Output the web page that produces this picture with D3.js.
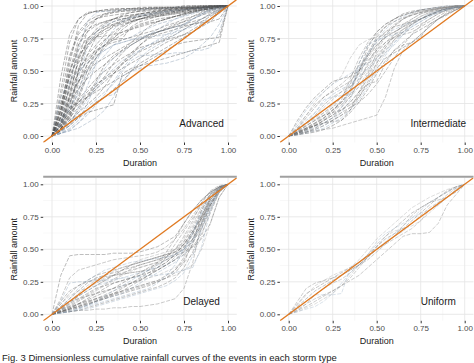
<!DOCTYPE html>
<html><head><meta charset="utf-8">
<script src="https://cdn.jsdelivr.net/npm/d3@7"></script>
<style>body{margin:0;background:#fff}svg{display:block;font-family:"Liberation Sans",Arial,sans-serif}</style>
</head><body>
<svg id="c" width="474" height="363"></svg>
<script>
// ---- data ----
const durationGrid = [0,.05,.1,.15,.2,.25,.3,.35,.4,.45,.5,.55,.6,.65,.7,.75,.8,.85,.9,.95,1];
const tickValues = [0,0.25,0.5,0.75,1];
const tickLabels = ["0.00","0.25","0.50","0.75","1.00"];
const panelNames = ["Advanced","Intermediate","Delayed","Uniform"];

const advanced = [
[0,.35,.72,.9,.95,.96,.97,.97,.98,.98,.98,.99,.99,.99,.99,1,1,1,1,1,1],
[0,.2,.55,.85,.94,.96,.96,.97,.97,.98,.98,.98,.99,.99,.99,.99,1,1,1,1,1],
[0,.12,.4,.66,.88,.95,.96,.96,.97,.97,.97,.98,.98,.98,.99,.99,.99,.99,1,1,1],
[0,.25,.45,.6,.72,.8,.86,.9,.93,.95,.96,.97,.97,.98,.98,.99,.99,.99,1,1,1],
[0,.08,.3,.5,.62,.7,.78,.85,.88,.9,.92,.93,.95,.96,.97,.98,.98,.99,.99,1,1],
[0,.05,.15,.35,.55,.68,.74,.74,.75,.84,.88,.9,.92,.94,.95,.96,.97,.98,.99,1,1],
[0,.1,.22,.32,.45,.55,.62,.7,.74,.76,.8,.83,.86,.88,.9,.93,.95,.97,.98,.99,1],
[0,.04,.1,.2,.3,.42,.55,.62,.66,.7,.74,.78,.8,.83,.86,.88,.92,.95,.97,.99,1],
[0,.15,.3,.42,.5,.56,.6,.64,.68,.72,.75,.78,.8,.82,.85,.88,.9,.93,.95,.97,1],
[0,.06,.14,.22,.3,.38,.45,.5,.56,.6,.65,.68,.72,.75,.78,.82,.86,.9,.94,.97,1],
[0,.03,.08,.14,.22,.28,.34,.4,.5,.58,.62,.62,.63,.63,.64,.64,.66,.66,.68,.8,1],
[0,.18,.6,.78,.86,.9,.92,.93,.94,.95,.96,.96,.97,.97,.98,.98,.99,.99,1,1,1],
[0,.1,.32,.58,.74,.82,.87,.9,.92,.93,.94,.95,.96,.97,.97,.98,.98,.99,.99,1,1],
[0,.05,.18,.4,.62,.76,.84,.88,.9,.92,.93,.94,.95,.96,.96,.97,.98,.98,.99,1,1],
[0,.02,.06,.12,.25,.4,.52,.6,.65,.7,.74,.78,.82,.86,.9,.92,.94,.96,.98,.99,1],
[0,.2,.35,.48,.58,.65,.7,.72,.74,.76,.78,.8,.82,.85,.87,.9,.92,.94,.96,.98,1],
[0,.08,.2,.28,.36,.44,.5,.55,.6,.64,.68,.7,.72,.74,.76,.78,.8,.84,.88,.95,1],
[0,.3,.62,.8,.88,.92,.94,.96,.97,.97,.98,.98,.98,.99,.99,.99,.99,1,1,1,1],
[0,.12,.25,.45,.68,.8,.85,.88,.9,.91,.92,.93,.94,.95,.96,.97,.98,.99,.99,1,1],
[0,.06,.12,.18,.24,.3,.38,.48,.56,.64,.7,.75,.78,.8,.82,.84,.86,.88,.92,.96,1],
[0,.04,.22,.5,.7,.78,.82,.85,.87,.89,.9,.91,.92,.93,.94,.95,.96,.97,.98,.99,1],
[0,.15,.38,.52,.6,.66,.7,.74,.78,.82,.85,.87,.88,.9,.92,.94,.96,.97,.98,.99,1],
[0,.02,.05,.1,.16,.24,.32,.42,.52,.6,.66,.7,.73,.76,.8,.85,.9,.94,.97,.99,1],
[0,.25,.5,.66,.75,.8,.84,.86,.88,.9,.92,.94,.95,.96,.97,.97,.98,.98,.99,1,1],
[0,.1,.28,.42,.52,.6,.68,.75,.82,.87,.9,.92,.93,.94,.95,.96,.97,.98,.99,1,1],
[0,.05,.1,.16,.2,.26,.3,.36,.42,.5,.56,.6,.64,.68,.72,.76,.8,.85,.9,.95,1],
[0,.3,.42,.5,.56,.62,.66,.7,.72,.74,.75,.76,.77,.78,.8,.82,.84,.88,.9,.94,1],
[0,.08,.38,.7,.84,.9,.93,.95,.96,.97,.97,.98,.98,.98,.99,.99,.99,1,1,1,1],
[0,.04,.12,.28,.46,.6,.7,.78,.84,.88,.9,.92,.93,.94,.95,.96,.97,.98,.99,.99,1],
[0,.12,.2,.26,.32,.38,.46,.56,.64,.7,.74,.77,.8,.82,.84,.86,.88,.9,.93,.96,1],
[0,.02,.08,.22,.38,.56,.72,.82,.88,.91,.93,.94,.95,.96,.97,.97,.98,.98,.99,1,1],
[0,.06,.16,.26,.34,.4,.44,.48,.52,.56,.6,.64,.68,.72,.75,.78,.82,.86,.9,.96,1],
[0,.22,.4,.56,.68,.76,.82,.86,.89,.92,.94,.95,.96,.97,.97,.98,.98,.99,.99,1,1],
[0,.14,.5,.74,.82,.86,.88,.9,.92,.93,.94,.95,.96,.97,.98,.98,.99,.99,1,1,1],
[0,.03,.1,.18,.28,.36,.44,.52,.58,.62,.66,.7,.74,.78,.82,.86,.9,.93,.96,.98,1],
[0,.1,.18,.24,.3,.36,.42,.48,.55,.62,.7,.76,.8,.82,.84,.85,.86,.87,.88,.9,1],
[0,.45,.78,.9,.94,.96,.97,.98,.98,.98,.99,.99,.99,.99,.99,1,1,1,1,1,1],
[0,.05,.25,.42,.55,.64,.7,.76,.8,.83,.86,.88,.9,.91,.92,.93,.95,.97,.98,.99,1],
[0,.02,.04,.1,.18,.26,.3,.32,.4,.5,.6,.66,.7,.74,.78,.82,.86,.9,.94,.97,1],
[0,.08,.26,.36,.44,.5,.55,.6,.66,.72,.78,.84,.88,.9,.92,.94,.95,.96,.97,.98,1],
[0,.16,.46,.62,.7,.76,.8,.84,.86,.88,.9,.92,.94,.95,.96,.97,.98,.99,.99,1,1],
[0,.06,.3,.6,.8,.9,.94,.95,.96,.96,.97,.97,.98,.98,.98,.99,.99,.99,1,1,1],
[0,.1,.2,.36,.5,.6,.66,.7,.72,.74,.76,.78,.8,.82,.84,.86,.9,.94,.97,.99,1],
[0,.04,.14,.3,.5,.64,.74,.8,.85,.88,.9,.91,.92,.93,.94,.95,.96,.97,.98,.99,1],
[0,.2,.48,.7,.8,.85,.88,.9,.9,.91,.92,.93,.94,.95,.96,.97,.98,.98,.99,1,1],
[0,.04,.08,.14,.18,.2,.22,.24,.48,.52,.54,.56,.58,.6,.62,.64,.66,.68,.7,.72,1],
[0,.02,.04,.06,.1,.14,.2,.3,.46,.5,.52,.54,.55,.56,.58,.6,.64,.7,.76,.86,1],
[0,.14,.22,.26,.3,.34,.38,.42,.46,.5,.54,.58,.62,.66,.7,.72,.73,.74,.75,.76,1],
[0,.08,.16,.5,.74,.76,.77,.78,.8,.82,.84,.86,.88,.9,.92,.94,.96,.97,.98,.99,1]
];

const intermediate = [
[0,.02,.05,.08,.12,.16,.22,.3,.42,.56,.68,.78,.85,.9,.93,.95,.97,.98,.99,1,1],
[0,.04,.08,.12,.18,.24,.3,.38,.48,.6,.7,.76,.8,.84,.88,.92,.95,.97,.98,.99,1],
[0,.01,.03,.05,.08,.12,.18,.28,.45,.62,.74,.82,.88,.92,.95,.97,.98,.99,1,1,1],
[0,.06,.14,.22,.3,.34,.38,.42,.5,.58,.66,.72,.78,.82,.86,.9,.93,.96,.98,.99,1],
[0,.02,.04,.06,.1,.14,.2,.26,.34,.44,.54,.64,.74,.82,.88,.92,.95,.97,.98,.99,1],
[0,.03,.06,.1,.14,.2,.26,.34,.5,.68,.8,.86,.9,.93,.95,.97,.98,.99,.99,1,1],
[0,.08,.16,.24,.3,.35,.4,.46,.54,.62,.7,.76,.8,.84,.87,.9,.93,.95,.97,.99,1],
[0,.01,.02,.04,.06,.1,.14,.2,.28,.38,.5,.62,.72,.8,.86,.9,.94,.96,.98,.99,1],
[0,.02,.06,.1,.16,.22,.3,.4,.56,.7,.78,.84,.88,.91,.93,.95,.96,.97,.98,.99,1],
[0,.05,.1,.14,.18,.22,.26,.32,.38,.46,.56,.66,.74,.8,.86,.9,.93,.96,.98,.99,1],
[0,.03,.08,.12,.16,.18,.2,.24,.3,.4,.52,.6,.64,.68,.72,.78,.84,.9,.94,.97,1],
[0,.02,.04,.08,.12,.18,.28,.44,.6,.72,.8,.86,.9,.93,.95,.96,.97,.98,.99,1,1],
[0,.1,.2,.28,.34,.4,.44,.48,.52,.56,.6,.66,.72,.78,.84,.88,.92,.95,.97,.99,1],
[0,.01,.03,.06,.1,.14,.18,.22,.26,.32,.4,.5,.6,.7,.78,.85,.9,.94,.97,.99,1],
[0,.04,.07,.1,.13,.18,.24,.32,.42,.52,.62,.7,.76,.82,.86,.9,.93,.95,.97,.99,1],
[0,.02,.05,.09,.14,.2,.26,.36,.5,.64,.76,.84,.9,.94,.96,.97,.98,.99,1,1,1],
[0,.03,.06,.08,.1,.12,.16,.22,.32,.46,.6,.7,.76,.8,.82,.86,.9,.94,.97,.99,1],
[0,.06,.12,.18,.26,.32,.36,.4,.46,.52,.58,.64,.7,.78,.85,.9,.94,.96,.98,.99,1],
[0,.02,.03,.05,.08,.12,.16,.2,.3,.42,.56,.68,.78,.86,.9,.94,.96,.98,.99,1,1],
[0,.04,.09,.15,.22,.28,.34,.42,.52,.62,.72,.8,.86,.9,.93,.95,.97,.98,.99,1,1],
[0,.01,.02,.03,.05,.08,.12,.18,.26,.36,.48,.58,.66,.72,.78,.82,.86,.9,.94,.97,1],
[0,.05,.1,.16,.24,.3,.34,.38,.44,.54,.66,.76,.84,.9,.94,.96,.97,.98,.99,1,1],
[0,.02,.04,.07,.1,.14,.22,.36,.52,.64,.72,.78,.82,.85,.88,.9,.93,.96,.98,.99,1],
[0,.03,.05,.08,.12,.16,.2,.26,.34,.48,.64,.72,.76,.78,.8,.84,.88,.92,.96,.98,1],
[0,.06,.1,.13,.16,.2,.24,.3,.38,.5,.6,.68,.74,.8,.86,.9,.94,.96,.98,.99,1],
[0,.12,.22,.3,.36,.42,.44,.46,.5,.62,.74,.8,.84,.86,.88,.9,.93,.96,.98,.99,1],
[0,.02,.03,.04,.05,.06,.08,.1,.12,.14,.16,.3,.52,.66,.72,.78,.84,.9,.95,.98,1],
[0,.04,.1,.18,.28,.3,.31,.32,.56,.7,.74,.76,.78,.8,.84,.88,.92,.95,.97,.99,1],
[0,.03,.06,.08,.1,.11,.12,.2,.34,.4,.42,.56,.66,.7,.72,.76,.86,.9,.93,.97,1],
[0,.06,.16,.26,.34,.4,.46,.6,.7,.74,.76,.78,.8,.84,.9,.94,.96,.98,.99,1,1]
];

const delayed = [
[0,.02,.04,.06,.08,.1,.12,.14,.16,.18,.2,.22,.25,.28,.32,.4,.55,.75,.9,.97,1],
[0,.05,.1,.15,.2,.24,.27,.3,.32,.34,.36,.38,.4,.44,.5,.6,.72,.86,.95,.99,1],
[0,.01,.02,.03,.04,.06,.08,.1,.12,.14,.16,.18,.2,.22,.26,.32,.45,.65,.85,.96,1],
[0,.08,.16,.22,.26,.3,.32,.34,.36,.38,.4,.42,.44,.46,.5,.56,.66,.8,.92,.98,1],
[0,.03,.06,.1,.14,.18,.22,.26,.3,.33,.36,.38,.4,.44,.5,.58,.7,.82,.92,.98,1],
[0,.02,.04,.08,.12,.16,.2,.24,.26,.28,.3,.32,.34,.38,.42,.48,.58,.72,.88,.97,1],
[0,.12,.28,.34,.36,.38,.4,.42,.43,.44,.45,.46,.48,.52,.58,.66,.76,.86,.94,.98,1],
[0,.01,.03,.05,.07,.09,.12,.14,.16,.2,.24,.28,.32,.36,.4,.46,.56,.7,.86,.96,1],
[0,.04,.08,.12,.16,.2,.22,.24,.26,.28,.3,.34,.4,.48,.58,.7,.8,.88,.94,.98,1],
[0,.02,.05,.08,.1,.12,.14,.16,.18,.2,.22,.24,.26,.28,.3,.34,.38,.5,.7,.9,1],
[0,.06,.12,.18,.24,.28,.3,.32,.34,.36,.38,.4,.42,.45,.48,.54,.62,.76,.9,.97,1],
[0,.03,.07,.11,.15,.19,.23,.27,.31,.35,.38,.4,.42,.44,.46,.5,.62,.8,.93,.98,1],
[0,.01,.02,.04,.06,.08,.1,.12,.14,.16,.18,.2,.24,.3,.38,.5,.64,.78,.9,.97,1],
[0,.1,.18,.22,.25,.27,.29,.3,.31,.32,.33,.34,.36,.4,.46,.54,.64,.76,.88,.96,1],
[0,.02,.06,.1,.14,.16,.18,.2,.22,.24,.26,.28,.3,.33,.36,.4,.46,.6,.82,.95,1],
[0,.04,.09,.14,.18,.22,.26,.3,.34,.38,.4,.42,.44,.46,.48,.52,.58,.68,.84,.96,1],
[0,.02,.04,.06,.09,.12,.15,.18,.21,.24,.27,.3,.34,.38,.44,.52,.62,.74,.86,.95,1],
[0,.05,.12,.2,.26,.3,.34,.36,.38,.4,.41,.42,.43,.44,.46,.5,.58,.7,.84,.96,1],
[0,.01,.02,.03,.05,.07,.09,.11,.13,.15,.17,.19,.21,.24,.28,.36,.48,.66,.84,.95,1],
[0,.03,.08,.14,.2,.25,.28,.3,.31,.32,.33,.35,.38,.42,.48,.56,.68,.82,.93,.98,1],
[0,.02,.03,.05,.07,.1,.13,.16,.2,.24,.28,.32,.36,.4,.46,.54,.64,.74,.84,.94,1],
[0,.06,.1,.12,.14,.16,.18,.2,.22,.24,.26,.3,.36,.44,.54,.64,.74,.84,.92,.97,1],
[0,.01,.02,.04,.07,.1,.14,.18,.22,.26,.3,.34,.38,.42,.46,.5,.56,.66,.8,.94,1],
[0,.04,.06,.08,.1,.12,.14,.16,.18,.2,.22,.24,.26,.3,.34,.42,.54,.7,.86,.96,1],
[0,.08,.14,.18,.2,.22,.26,.3,.34,.38,.42,.44,.46,.48,.5,.54,.6,.7,.82,.94,1],
[0,.02,.05,.08,.11,.14,.17,.2,.24,.28,.32,.36,.39,.42,.45,.48,.52,.58,.7,.9,1],
[0,.03,.05,.07,.09,.11,.13,.15,.17,.19,.21,.23,.25,.28,.34,.44,.58,.74,.88,.97,1],
[0,.05,.1,.14,.18,.22,.24,.26,.28,.3,.32,.34,.36,.38,.42,.5,.62,.78,.92,.98,1],
[0,.02,.04,.06,.08,.1,.12,.15,.18,.22,.26,.3,.34,.38,.42,.46,.52,.62,.78,.94,1],
[0,.04,.1,.16,.22,.26,.3,.33,.36,.38,.4,.42,.44,.46,.48,.5,.56,.66,.8,.94,1],
[0,.3,.45,.46,.46,.46,.46,.47,.47,.47,.48,.5,.52,.56,.6,.7,.8,.88,.94,.98,1],
[0,.02,.02,.03,.03,.04,.04,.05,.05,.06,.06,.07,.08,.1,.12,.2,.4,.7,.9,.98,1],
[0,.1,.24,.25,.25,.26,.26,.27,.28,.28,.29,.3,.3,.31,.32,.34,.36,.52,.8,.96,1]
];

const uniform = [
[0,.08,.16,.2,.24,.28,.32,.36,.4,.46,.52,.58,.62,.66,.72,.78,.84,.9,.95,.98,1],
[0,.03,.08,.15,.2,.24,.27,.32,.38,.44,.5,.55,.6,.64,.7,.76,.82,.86,.9,.95,1],
[0,.02,.04,.06,.1,.16,.24,.32,.38,.44,.5,.56,.62,.68,.74,.8,.86,.9,.94,.97,1],
[0,.1,.2,.24,.26,.28,.3,.34,.38,.42,.48,.54,.6,.68,.76,.82,.86,.88,.9,.94,1],
[0,.02,.05,.08,.12,.16,.22,.3,.38,.46,.54,.6,.64,.66,.68,.72,.78,.84,.9,.96,1],
[0,.06,.12,.18,.22,.26,.3,.34,.38,.44,.52,.6,.66,.72,.78,.82,.86,.9,.94,.98,1],
[0,.04,.08,.12,.15,.18,.22,.28,.36,.44,.5,.54,.58,.62,.66,.72,.8,.86,.92,.97,1],
[0,.05,.1,.15,.15,.15,.16,.36,.4,.46,.56,.62,.66,.7,.74,.78,.8,.84,.9,.96,1],
[0,.03,.06,.1,.14,.18,.22,.26,.3,.36,.42,.48,.54,.6,.62,.62,.63,.7,.84,.92,1],
[0,.07,.15,.22,.26,.3,.33,.36,.42,.5,.58,.64,.7,.76,.82,.86,.9,.93,.96,.98,1]
];

const lineColors = ["#555555","#777777","#8ea5bd","#666666","#9a9a9a"];
const captionText = "Fig. 3  Dimensionless cumulative rainfall curves of the events in each storm type";

// ---- layout ----
const panels = [
  {name: panelNames[0], data: advanced, x0: 43.2, x1: 236.8, y0: -0.5, y1: 142.5, topBar: false, dense: true},
  {name: panelNames[1], data: intermediate, x0: 279.9, x1: 473.5, y0: -0.5, y1: 142.5, topBar: false},
  {name: panelNames[2], data: delayed, x0: 43.2, x1: 236.8, y0: 177.8, y1: 320.8, topBar: true},
  {name: panelNames[3], data: uniform, x0: 279.9, x1: 473.5, y0: 177.8, y1: 320.8, topBar: true, light: true}
];

const svg = d3.select("#c");
const minorVals = [0.125,0.375,0.625,0.875];

panels.forEach((p, pi) => {
  const x = d3.scaleLinear().domain([-0.05,1.05]).range([p.x0, p.x1]);
  const y = d3.scaleLinear().domain([-0.05,1.05]).range([p.y1, p.y0]);
  const g = svg.append("g");
  const clipId = "clip" + pi;
  svg.append("clipPath").attr("id", clipId).append("rect")
    .attr("x", p.x0).attr("y", p.y0).attr("width", p.x1 - p.x0).attr("height", p.y1 - p.y0);

  // grid
  const grid = g.append("g");
  minorVals.forEach(v => {
    grid.append("line").attr("x1", x(v)).attr("x2", x(v)).attr("y1", p.y0).attr("y2", p.y1)
      .attr("stroke", "#f1f1f1").attr("stroke-width", 0.5);
    grid.append("line").attr("y1", y(v)).attr("y2", y(v)).attr("x1", p.x0).attr("x2", p.x1)
      .attr("stroke", "#f1f1f1").attr("stroke-width", 0.5);
  });
  tickValues.forEach(v => {
    grid.append("line").attr("x1", x(v)).attr("x2", x(v)).attr("y1", p.y0).attr("y2", p.y1)
      .attr("stroke", "#e3e3e3").attr("stroke-width", 0.8);
    grid.append("line").attr("y1", y(v)).attr("y2", y(v)).attr("x1", p.x0).attr("x2", p.x1)
      .attr("stroke", "#e3e3e3").attr("stroke-width", 0.8);
  });

  // curves
  const line = d3.line().x((d, i) => x(durationGrid[i])).y(d => y(d));
  const lg = g.append("g").attr("clip-path", `url(#${clipId})`);
  p.data.forEach((vals, i) => {
    lg.append("path").attr("d", line(vals)).attr("fill", "none")
      .attr("stroke", p.dense ? (i % 4 === 2 ? "#7f96ae" : "#4e4e4e") : lineColors[i % lineColors.length])
      .attr("stroke-opacity", p.dense ? 0.7 : (p.light ? 0.55 : 0.65))
      .attr("stroke-width", 0.6)
      .attr("stroke-dasharray", "4,1.5");
  });

  // diagonal
  lg.append("line").attr("x1", x(-0.05)).attr("y1", y(-0.05)).attr("x2", x(1.05)).attr("y2", y(1.05))
    .attr("stroke", "#e07a22").attr("stroke-width", 1.3);

  if (p.topBar) {
    g.append("line").attr("x1", p.x0).attr("x2", p.x1).attr("y1", p.y0 - 1).attr("y2", p.y0 - 1)
      .attr("stroke", "#a0a0a0").attr("stroke-width", 2);
  }

  // axes
  const xAxis = d3.axisBottom(x).tickValues(tickValues).tickFormat((d, i) => tickLabels[i]).tickSize(2.5).tickPadding(2);
  const yAxis = d3.axisLeft(y).tickValues(tickValues).tickFormat((d, i) => tickLabels[i]).tickSize(2.5).tickPadding(2);
  const xa = g.append("g").attr("transform", `translate(0,${p.y1})`).call(xAxis);
  const ya = g.append("g").attr("transform", `translate(${p.x0},0)`).call(yAxis);
  [xa, ya].forEach(a => {
    a.select(".domain").remove();
    a.selectAll(".tick line").attr("stroke", "#333");
    a.selectAll(".tick text").attr("fill", "#4d4d4d").style("font-size", "8px")
      .style("font-family", '"Liberation Sans",Arial,sans-serif');
  });

  // titles
  g.append("text").attr("x", (x(0) + x(1)) / 2).attr("y", p.y1 + 23.5).attr("text-anchor", "middle")
    .style("font-size", "9px").attr("fill", "#1a1a1a").text("Duration");
  g.append("text").attr("transform", `translate(${p.x0 - 26},${(p.y0 + p.y1) / 2}) rotate(-90)`)
    .attr("text-anchor", "middle").style("font-size", "9px").attr("fill", "#1a1a1a").text("Rainfall amount");

  // panel label
  g.append("text").attr("x", x(0.85)).attr("y", y(0.1)).attr("dy", "0.35em").attr("text-anchor", "middle")
    .style("font-size", "10px").attr("fill", "#1a1a1a").text(p.name);
});

svg.append("text").attr("x", 2).attr("y", 361).style("font-size", "9.5px").attr("fill", "#222")
  .text(captionText);
</script>
</body></html>
